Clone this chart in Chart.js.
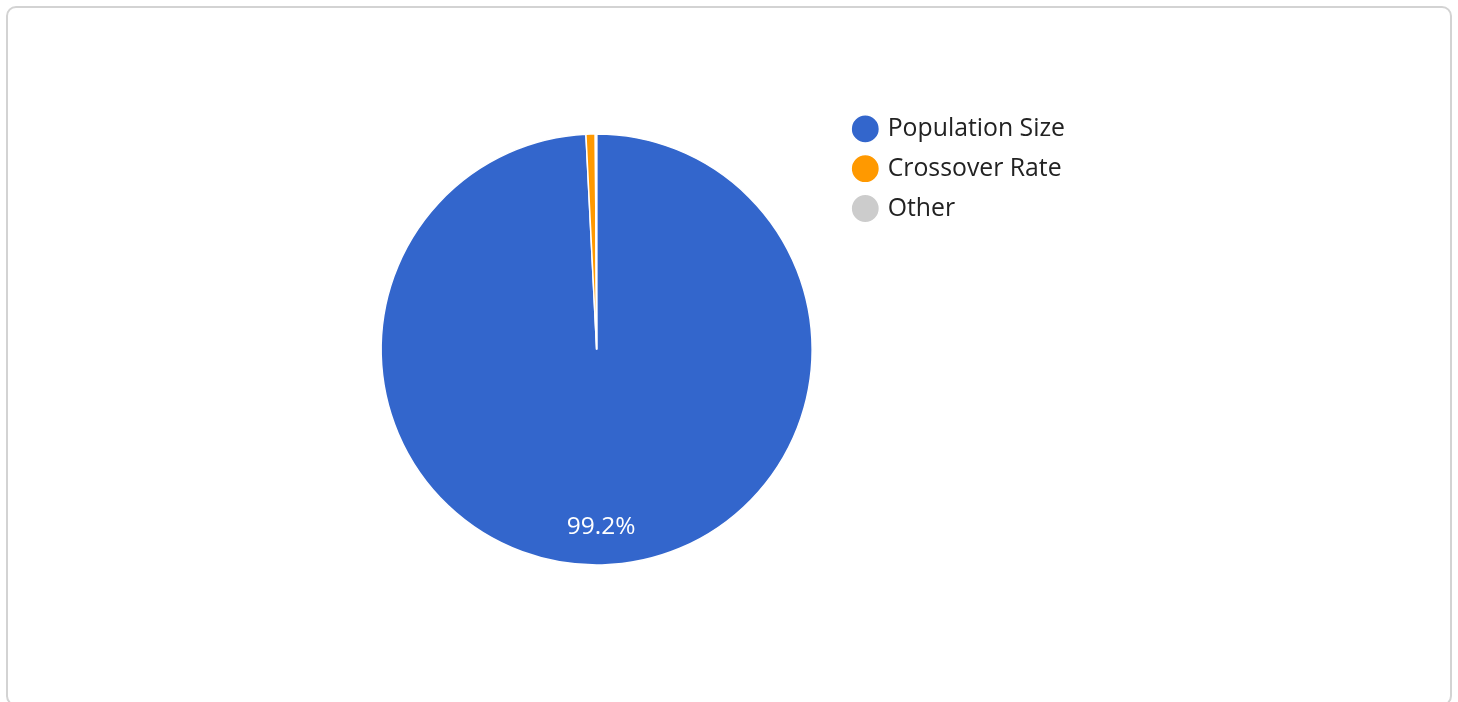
<!DOCTYPE html>
<html>
<head>
<meta charset="utf-8">
<script src="https://cdn.jsdelivr.net/npm/chart.js@4.4.0/dist/chart.umd.min.js"></script>
<style>
  html, body { margin: 0; padding: 0; background: #fff; }
  #card {
    position: absolute; left: 6px; top: 6px; width: 1442px; height: 696px;
    border: 2px solid #d3d3d3; border-radius: 10px; box-sizing: content-box;
  }
  #wrap { position: absolute; left: 0; top: 0; width: 1442px; height: 696px; }
</style>
</head>
<body>
<div id="card"><div id="wrap"><canvas id="pie"></canvas></div></div>
<script>
// chart data
const labels = ["Population Size", "Crossover Rate", "Other"];
const values = [100, 0.7, 0.1];
const colors = ["#3366cc", "#ff9900", "#cccccc"];

// draws the percent text inside big slices
const sliceLabels = {
    id: "sliceLabels",
    afterDatasetsDraw(chart) {
        const ctx = chart.ctx;
        const meta = chart.getDatasetMeta(0);
        const total = values.reduce((a, b) => a + b, 0);
        ctx.save();
        ctx.fillStyle = "#ffffff";
        ctx.font = "24.5px 'Open Sans'";
        ctx.textAlign = "center";
        ctx.textBaseline = "middle";
        meta.data.forEach((arc, i) => {
            const pct = values[i] / total * 100;
            if (pct < 5) return;
            const mid = (arc.startAngle + arc.endAngle) / 2;
            const r = arc.outerRadius * 0.822;
            ctx.fillText(pct.toFixed(1) + "%", arc.x + Math.cos(mid) * r, arc.y + Math.sin(mid) * r);
        });
        ctx.restore();
    }
};

new Chart(document.getElementById("pie").getContext("2d"), {
    type: "pie",
    data: {
        labels,
        datasets: [{
            data: values,
            backgroundColor: colors,
            borderColor: "#ffffff",
            borderWidth: 1.5
        }]
    },
    options: {
        responsive: true,
        maintainAspectRatio: false,
        animation: false,
        radius: 215.5,
        layout: { padding: { left: 345, right: 375, top: 93.5, bottom: 106.5 } },
        plugins: {
            tooltip: { enabled: false },
            legend: {
                position: "right",
                align: "start",
                labels: {
                    usePointStyle: true,
                    pointStyle: "circle",
                    boxWidth: 20,
                    boxHeight: 20,
                    padding: 15,
                    color: "#222222",
                    font: { family: "'Open Sans'", size: 24.8 }
                }
            }
        }
    },
    plugins: [sliceLabels]
});
</script>
</body>
</html>
